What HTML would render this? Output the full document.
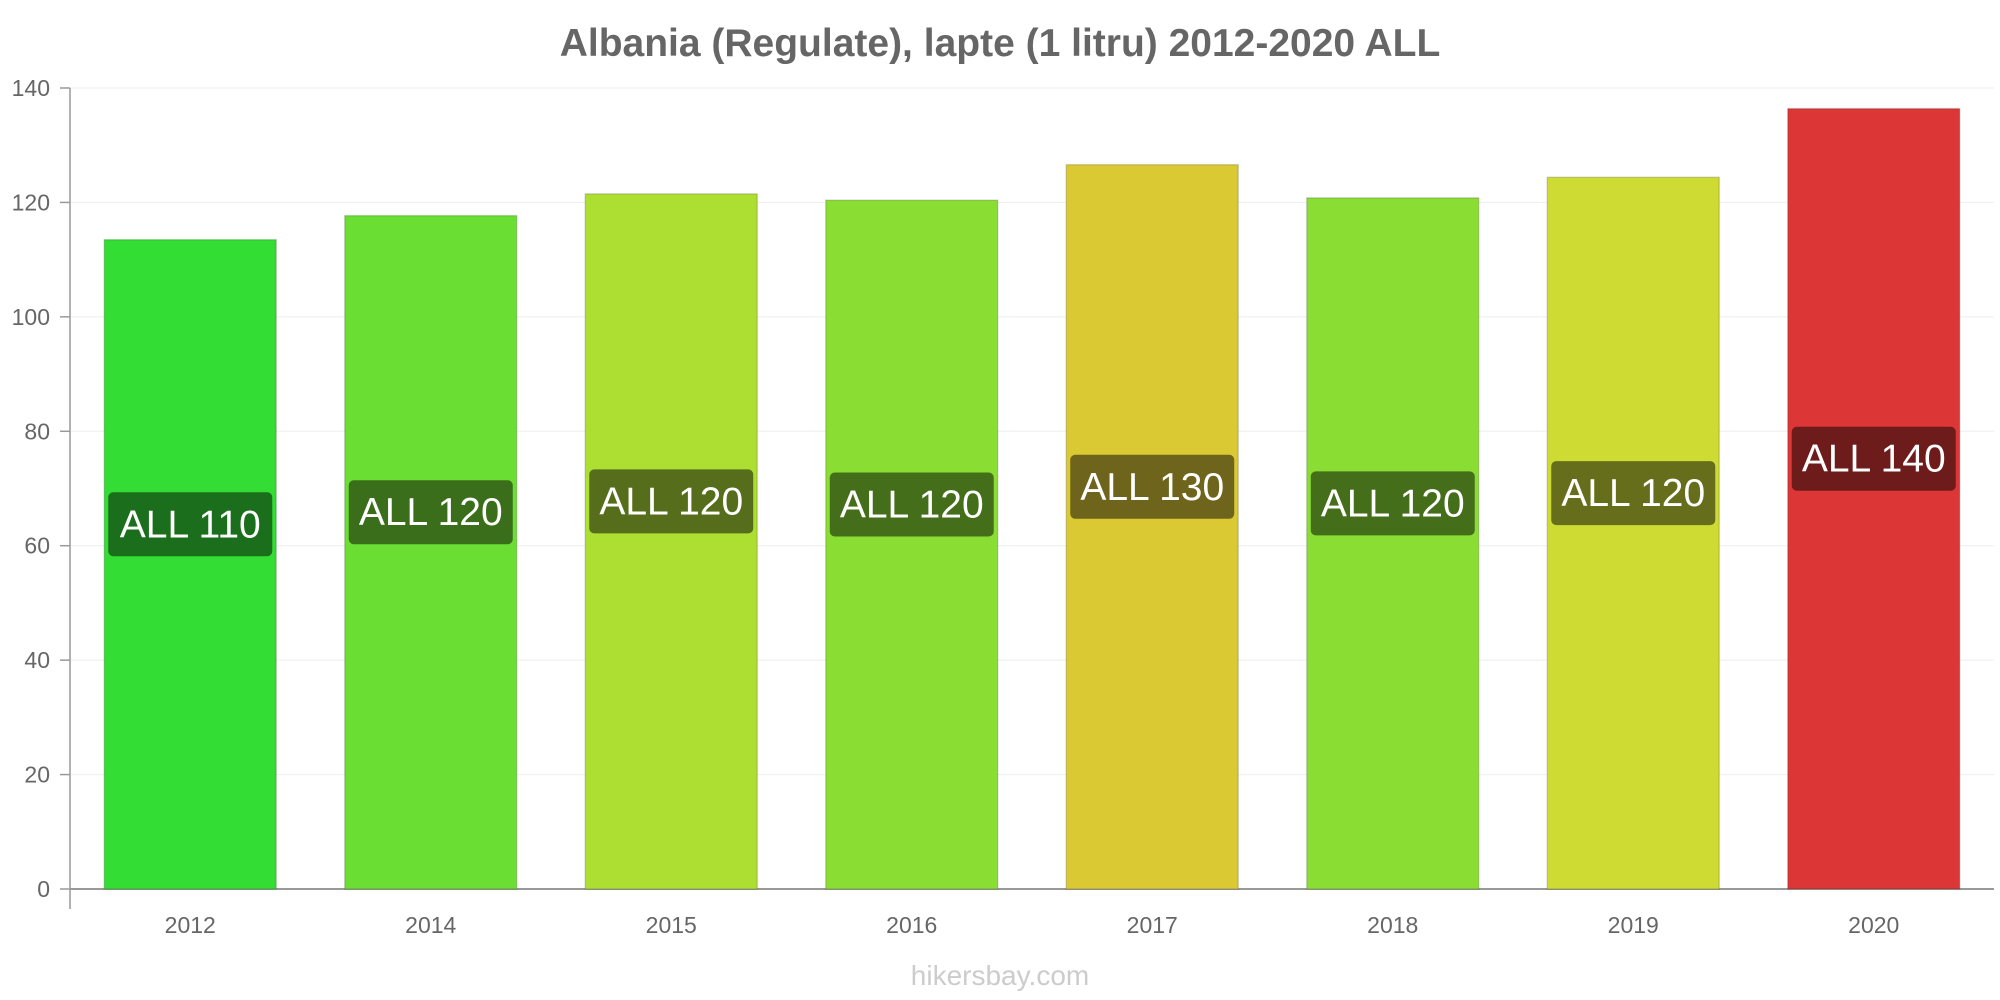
<!DOCTYPE html>
<html><head><meta charset="utf-8"><style>
html,body{margin:0;padding:0;background:#fff;}
svg{display:block;font-family:"Liberation Sans",sans-serif;}
</style></head><body>
<svg id="chart" width="2000" height="1000" viewBox="0 0 2000 1000">
<text x="1000" y="56" text-anchor="middle" font-size="39" font-weight="bold" fill="#666">Albania (Regulate), lapte (1 litru) 2012-2020 ALL</text>
<g id="grid"></g><g id="bars"></g><g id="labels"></g>
<text x="1000" y="985" text-anchor="middle" font-size="28" fill="#ccc">hikersbay.com</text>
</svg>
<script>
const categories=["2012","2014","2015","2016","2017","2018","2019","2020"];
const values=[113.5,117.7,121.5,120.4,126.6,120.8,124.4,136.4];
const printed=["ALL 110","ALL 120","ALL 120","ALL 120","ALL 130","ALL 120","ALL 120","ALL 140"];
const yTicks=[0,20,40,60,80,100,120,140];
const colors=["#33dd33","#6ade33","#addf33","#8ade33","#dbc933","#8ade33","#cedb33","#dc3636"];
const labelBg=["#1b6e1b","#3a6e1b","#566e1b","#456e1b","#6e641b","#456e1b","#676e1b","#6e1b1b"];
const NS="http://www.w3.org/2000/svg";
const x0=70,x1=1994,y0=889,yTop=88,yMax=140;
const y=v=>y0-(v/yMax)*(y0-yTop);
const step=(x1-x0)/categories.length;
const xc=i=>x0+step*(i+0.5);
function mk(t,a,p){const e=document.createElementNS(NS,t);for(const k in a)e.setAttribute(k,a[k]);p.appendChild(e);return e;}
const grid=document.getElementById('grid'),bars=document.getElementById('bars'),labels=document.getElementById('labels');
yTicks.forEach(t=>{
 const l=mk('line',{x1:x0,x2:x1,y1:y(t),y2:y(t),stroke:t===0?'#999':'#eee','stroke-width':t===0?2:1},grid);
 
 
 const tk=mk('line',{x1:x0-10,x2:x0,y1:y(t),y2:y(t),stroke:'#999','stroke-width':1.5},grid);
 
 
 const tx=mk('text',{x:x0-20,y:y(t)+8,'text-anchor':'end','font-size':23,fill:'#666'},grid);
 tx.textContent=t;
 
 
});
const ax=mk('line',{x1:x0,x2:x0,y1:yTop,y2:y0+20,stroke:'#999','stroke-width':1.5},grid);


const bw=172;
categories.forEach((c,i)=>{
 const r=mk('rect',{x:xc(i)-bw/2,y:y(values[i]),width:bw,height:y0-y(values[i]),fill:colors[i],stroke:'rgba(0,0,0,0.15)','stroke-width':1.5},bars);
 
 
 const xt=mk('text',{x:xc(i),y:y0+44,'text-anchor':'middle','font-size':23,fill:'#666'},labels);
 xt.textContent=c;
 
 
 const cy=y(values[i]/2+7);
 const g=mk('g',{},labels);
 
 
 const w=164,h=64;
 mk('rect',{x:xc(i)-w/2,y:cy-h/2,width:w,height:h,rx:5,fill:labelBg[i]},g);
 const t=mk('text',{x:xc(i),y:cy+13,'text-anchor':'middle','font-size':39,fill:'#fff'},g);
 t.textContent=printed[i];
});
</script>
</body></html>
